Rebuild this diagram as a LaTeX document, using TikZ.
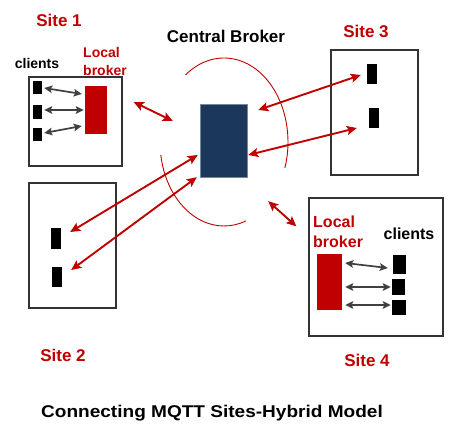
\documentclass[tikz,border=0pt]{standalone}
\usepackage{fontspec}
\setmainfont{Liberation Sans}
\usetikzlibrary{calc,arrows.meta}
\definecolor{brred}{HTML}{C00000}
\definecolor{navy}{HTML}{1B375C}
\definecolor{dgray}{HTML}{404040}
\begin{document}
\begin{tikzpicture}[x=1pt,y=-1pt,
  sitebox/.style={draw=black!80, line width=1.3pt, fill=white, inner sep=0pt},
  client/.style={fill=black, inner sep=0pt},
  lbroker/.style={fill=brred, inner sep=0pt},
  cbroker/.style={fill=navy, draw=navy!60!white, line width=0.4pt, inner sep=0pt},
  rarrow/.style={draw=brred, line width=1.9pt, arrows={Stealth[length=10pt,width=9pt,inset=2pt]-Stealth[length=10pt,width=9pt,inset=2pt]}},
  garrow/.style={draw=dgray, line width=1.7pt, arrows={Stealth[length=8pt,width=7.5pt,inset=1.5pt]-Stealth[length=8pt,width=7.5pt,inset=1.5pt]}},
  arcline/.style={draw=brred, line width=0.9pt},
  sitelbl/.style={font=\fontsize{17}{20}\selectfont\bfseries, text=brred, inner sep=0pt},
  smalllbl/.style={font=\fontsize{14}{18}\selectfont\bfseries, inner sep=0pt},
  midlbl/.style={font=\fontsize{16}{20}\selectfont\bfseries, inner sep=0pt}
]
\fill[white] (0,0) rectangle (474,433);
\useasboundingbox (0,0) rectangle (474,433);

% Site 1
\node[sitebox, minimum width=93pt, minimum height=89pt] (s1box) at (75.5,121.5) {};
\node[lbroker, minimum width=22pt, minimum height=48pt] (s1lb) at (96,110) {};
\node[client, minimum width=9pt, minimum height=13pt] (s1c1) at (37.5,87.5) {};
\node[client, minimum width=9pt, minimum height=14pt] (s1c2) at (37.5,112) {};
\node[client, minimum width=9pt, minimum height=13pt] (s1c3) at (37.5,134.5) {};
\node[sitelbl] (s1t) at (59,20) {Site 1};
\node[smalllbl] (s1cl) at (37,63) {clients};
\node[smalllbl, text=brred, anchor=west, align=left] (s1lbt) at (83,61) {Local\\broker};
\draw[garrow] ($(s1c1.east)+(2,0.5)$) -- ($(s1lb.west)+(-3,-16)$);
\draw[garrow] ($(s1c2.east)+(2,-2)$) -- ($(s1lb.west)+(-1,0)$);
\draw[garrow] ($(s1c3.east)+(2,-1.5)$) -- ($(s1lb.west)+(-3,16)$);

% Central broker
\node[cbroker, minimum width=47pt, minimum height=73pt] (central) at (223.5,140.5) {};
\node[font=\fontsize{17}{20}\selectfont\bfseries, inner sep=0pt] (ct) at (226,36) {Central Broker};
\coordinate (ec) at ($(central.center)+(0.5,1.5)$);
\draw[arcline] ($(ec)+(127:64pt and 84pt)$) arc[start angle=127, end angle=-18, x radius=64pt, y radius=84pt];
\draw[arcline] ($(ec)+(189:64pt and 84pt)$) arc[start angle=189, end angle=290, x radius=64pt, y radius=84pt];

% Site 3
\node[sitebox, minimum width=87pt, minimum height=125pt] (s3box) at (374.5,112.5) {};
\node[client, minimum width=10pt, minimum height=20pt] (s3c1) at (372,74) {};
\node[client, minimum width=10pt, minimum height=20pt] (s3c2) at (374,118) {};
\node[sitelbl] (s3t) at (366,31) {Site 3};

% Site 2
\node[sitebox, minimum width=87pt, minimum height=125pt] (s2box) at (72.5,245.5) {};
\node[client, minimum width=10pt, minimum height=21pt] (s2c1) at (56,238.5) {};
\node[client, minimum width=10pt, minimum height=20pt] (s2c2) at (57,277) {};
\node[sitelbl] (s2t) at (63,355) {Site 2};

% Site 4
\node[sitebox, minimum width=134pt, minimum height=138pt] (s4box) at (376,267) {};
\node[lbroker, minimum width=25pt, minimum height=56pt] (s4lb) at (329.5,282) {};
\node[client, minimum width=13pt, minimum height=19pt] (s4c1) at (399.5,264.5) {};
\node[client, minimum width=13pt, minimum height=16pt] (s4c2) at (398.5,287) {};
\node[client, minimum width=14pt, minimum height=15pt] (s4c3) at (399,307.5) {};
\node[midlbl, text=brred, anchor=west, align=left] (s4lbt) at (313,232) {Local\\broker};
\node[midlbl] (s4cl) at (409,234) {clients};
\node[sitelbl] (s4t) at (367,360) {Site 4};
\draw[garrow] ($(s4lb.east)+(3,-19)$) -- ($(s4c1.west)+(-5,3.5)$);
\draw[garrow] ($(s4lb.east)+(3,5)$) -- ($(s4c2.west)+(-1,0)$);
\draw[garrow] ($(s4lb.east)+(3,23)$) -- ($(s4c3.west)+(-1,-2.5)$);

% Red connections
\draw[rarrow] ($(s1box.east)+(11,-19.5)$) -- ($(central.west)+(-27,-19.5)$);
\draw[rarrow] ($(s3c1.west)+(-6,1)$) -- ($(central.east)+(11,-30.5)$);
\draw[rarrow] ($(s3c2.west)+(-12,10)$) -- ($(central.east)+(1,14.5)$);
\draw[rarrow] ($(s2c1.east)+(9,-6.5)$) -- ($(central.west)+(-2,14.5)$);
\draw[rarrow] ($(s2c2.east)+(9,-7)$) -- ($(central.south west)+(-3,0)$);
\draw[rarrow] ($(s4box.north west)+(-12,29)$) -- ($(central.south east)+(21,24)$);

% Title
\node[font=\fontsize{17}{20}\selectfont\bfseries, inner sep=0pt] (title) at (212,413) {\scalebox{1.12}[1]{Connecting MQTT Sites-Hybrid Model}};
\end{tikzpicture}
\end{document}
